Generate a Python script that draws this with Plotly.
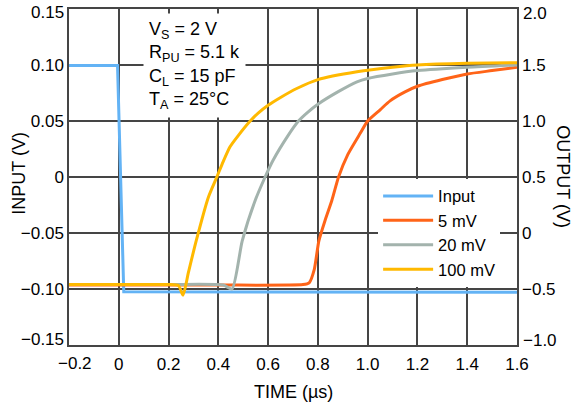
import plotly.graph_objects as go

# ---- data ----
input_t = [-0.2, -0.005, 0.02, 0.6, 1.6]
input_v = [0.0995, 0.0995, -0.1025, -0.1027, -0.1028]

mv5_t = [-0.2, 0.4, 0.74, 0.765, 0.785, 0.804, 0.83, 0.856, 0.883, 0.92, 0.97, 1.0, 1.05, 1.09, 1.15, 1.2, 1.3, 1.4, 1.5, 1.6]
mv5_v = [-0.465, -0.465, -0.46, -0.445, -0.33, -0.07, 0.12, 0.29, 0.5, 0.70, 0.89, 1.0, 1.1, 1.18, 1.26, 1.31, 1.37, 1.42, 1.45, 1.48]

mv20_t = [-0.2, 0.2, 0.42, 0.455, 0.496, 0.548, 0.588, 0.62, 0.68, 0.722, 0.76, 0.8, 0.88, 0.957, 1.0, 1.1, 1.2, 1.4, 1.6]
mv20_v = [-0.46, -0.46, -0.465, -0.50, -0.07, 0.29, 0.5, 0.65, 0.87, 1.0, 1.08, 1.15, 1.26, 1.35, 1.38, 1.42, 1.45, 1.48, 1.50]

mv100_t = [-0.2, 0.0, 0.2, 0.24, 0.258, 0.28, 0.311, 0.36, 0.394, 0.42, 0.447, 0.48, 0.528, 0.56, 0.6, 0.65, 0.715, 0.8, 0.957, 1.1, 1.2, 1.4, 1.6]
mv100_v = [-0.46, -0.46, -0.46, -0.47, -0.555, -0.35, -0.07, 0.32, 0.5, 0.64, 0.77, 0.87, 1.0, 1.07, 1.14, 1.21, 1.29, 1.37, 1.44, 1.48, 1.50, 1.515, 1.52]

x_ticks = [0, 0.2, 0.4, 0.6, 0.8, 1.0, 1.2, 1.4, 1.6]
x_labels = ["0", "0.2", "0.4", "0.6", "0.8", "1.0", "1.2", "1.4", "1.6"]
y_ticks = [-0.10, -0.05, 0, 0.05, 0.10]
y_labels = ["\u22120.10", "\u22120.05", "0", "0.05", "0.10"]
y2_ticks = [-0.5, 0, 0.5, 1.0, 1.5]
y2_labels = ["\u22120.5", "0", "0.5", "1.0", "1.5"]
# end-of-axis labels, nudged inward as in the reference
x_end = (-0.2, "\u22120.2")
y_ends = [(0.15, "0.15"), (-0.15, "\u22120.15")]
y2_ends = [(2.0, "2.0"), (-1.0, "\u22121.0")]

FONT = "Liberation Sans, Arial, sans-serif"
GRID = "#454545"
TICKSIZE = 17

fig = go.Figure()
fig.add_trace(go.Scatter(x=input_t, y=input_v, name="Input", mode="lines",
                         line=dict(color="#63b3f5", width=3), yaxis="y"))
fig.add_trace(go.Scatter(x=mv5_t, y=mv5_v, name="5 mV", mode="lines",
                         line=dict(color="#ff6418", width=3, shape="spline", smoothing=0.6), yaxis="y2"))
fig.add_trace(go.Scatter(x=mv20_t, y=mv20_v, name="20 mV", mode="lines",
                         line=dict(color="#a3b3ad", width=3, shape="spline", smoothing=0.6), yaxis="y2"))
fig.add_trace(go.Scatter(x=mv100_t, y=mv100_v, name="100 mV", mode="lines",
                         line=dict(color="#ffb900", width=3, shape="spline", smoothing=0.6), yaxis="y2"))

annotations = [
    dict(text="V<sub>S</sub> = 2 V<br>R<sub>PU</sub> = 5.1 k<br>C<sub>L</sub> = 15 pF<br>T<sub>A</sub> = 25\u00b0C",
         xref="paper", yref="paper", x=0.165, y=0.989, xanchor="left", yanchor="top",
         align="left", showarrow=False, bgcolor="white", borderpad=5,
         font=dict(size=18)),
    dict(text="INPUT (V)", xref="paper", yref="paper", x=-0.112, y=0.512,
         xanchor="center", yanchor="middle",
         textangle=-90, showarrow=False, font=dict(size=18)),
    dict(text="OUTPUT (V)", xref="paper", yref="paper", x=1.102, y=0.5,
         xanchor="center", yanchor="middle",
         textangle=90, showarrow=False, font=dict(size=18)),
    dict(text="TIME (\u00b5s)", xref="paper", yref="paper", x=0.5, y=-0.14,
         xanchor="center", yanchor="middle",
         showarrow=False, font=dict(size=18)),
    dict(text=x_end[1], xref="x", yref="paper", x=x_end[0], y=0, xanchor="center",
         yanchor="top", xshift=6, yshift=-7, showarrow=False, font=dict(size=TICKSIZE)),
]
for val, lab in y_ends:
    annotations.append(dict(text=lab, xref="paper", yref="y", x=0, y=val,
                            xanchor="right", yanchor="middle", xshift=-3,
                            yshift=(-3 if val > 0 else 6), showarrow=False,
                            font=dict(size=TICKSIZE)))
for val, lab in y2_ends:
    annotations.append(dict(text=lab, xref="paper", yref="y2", x=1, y=val,
                            xanchor="left", yanchor="middle", xshift=4,
                            yshift=(-4 if val > 0 else 5), showarrow=False,
                            font=dict(size=TICKSIZE)))

fig.update_layout(
    width=583, height=411,
    margin=dict(l=69, r=66, t=9, b=66, autoexpand=False),
    paper_bgcolor="white", plot_bgcolor="white",
    font=dict(family=FONT, size=TICKSIZE, color="black"),
    showlegend=True,
    legend=dict(x=0.69, y=0.495, xanchor="left", yanchor="top",
                bgcolor="white", borderwidth=0, font=dict(size=16.5),
                itemwidth=50),
    xaxis=dict(range=[-0.2, 1.6], tickmode="array", tickvals=x_ticks, ticktext=x_labels,
               showgrid=True, gridcolor=GRID, gridwidth=1.5, zeroline=False,
               showline=True, linecolor=GRID, linewidth=1.5, mirror=True,
               automargin=False, ticklabelstandoff=3),
    yaxis=dict(range=[-0.15, 0.15], tickmode="array", tickvals=y_ticks, ticktext=y_labels,
               showgrid=True, gridcolor=GRID, gridwidth=1.5, zeroline=False,
               showline=True, linecolor=GRID, linewidth=1.5, mirror=True,
               automargin=False),
    yaxis2=dict(range=[-1.0, 2.0], tickmode="array", tickvals=y2_ticks, ticktext=y2_labels,
                overlaying="y", side="right", showgrid=False, zeroline=False,
                showline=False, automargin=False, ticklabelstandoff=4),
    annotations=annotations,
)

fig.write_html("out.html", config={"displayModeBar": False},
               post_script="document.body.style.margin='0px';")
